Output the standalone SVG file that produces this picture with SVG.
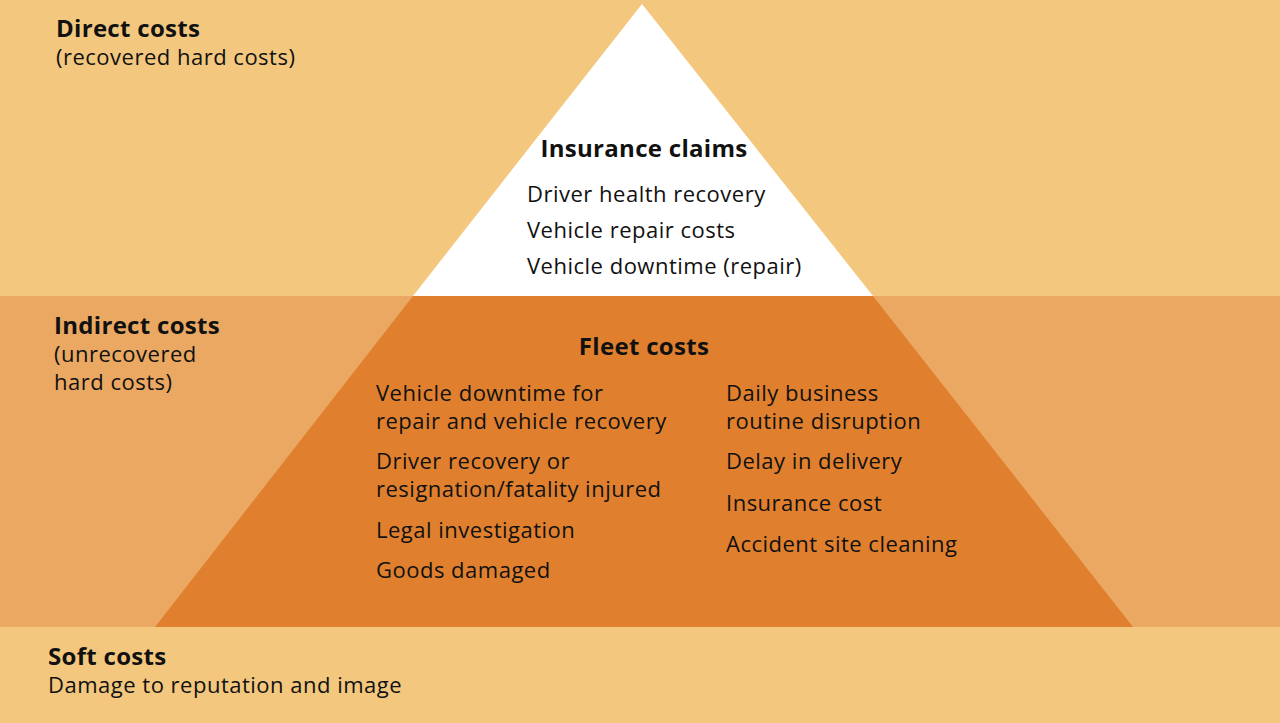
<svg xmlns="http://www.w3.org/2000/svg" width="1280" height="723" viewBox="0 0 1280 723">
<style>
text{font-family:"Open Sans","Noto Sans","Liberation Sans",sans-serif;fill:#111;font-size:22px;letter-spacing:0.5px}
.h{font-weight:bold;font-size:24px;letter-spacing:0.3px}
.c{text-anchor:middle}
</style>
<g id="bands">
<rect x="0" y="0" width="1280" height="296" fill="#F3C87E"/>
<rect x="0" y="296" width="1280" height="331" fill="#EAA862"/>
<rect x="0" y="627" width="1280" height="96" fill="#F3C87E"/>
</g>
<g id="pyramid-top">
<polygon points="642,4 873,296 413,296" fill="#FFFFFF"/>
<text class="h c" x="644" y="157">Insurance claims</text>
<text x="527" y="202">Driver health recovery</text>
<text x="527" y="238">Vehicle repair costs</text>
<text x="527" y="274">Vehicle downtime (repair)</text>
</g>
<g id="pyramid-base">
<polygon points="413,296 873,296 1133,627 155,627" fill="#E0802E"/>
<text class="h c" x="644" y="355">Fleet costs</text>
<text x="376" y="401">Vehicle downtime for</text>
<text x="376" y="429">repair and vehicle recovery</text>
<text x="376" y="469">Driver recovery or</text>
<text x="376" y="497">resignation/fatality injured</text>
<text x="376" y="538">Legal investigation</text>
<text x="376" y="578">Goods damaged</text>
<text x="726" y="401">Daily business</text>
<text x="726" y="429">routine disruption</text>
<text x="726" y="469">Delay in delivery</text>
<text x="726" y="511">Insurance cost</text>
<text x="726" y="552">Accident site cleaning</text>
</g>
<g id="direct-label">
<text class="h" x="56" y="37">Direct costs</text>
<text x="56" y="65">(recovered hard costs)</text>
</g>
<g id="indirect-label">
<text class="h" x="54" y="334">Indirect costs</text>
<text x="54" y="362">(unrecovered</text>
<text x="54" y="390">hard costs)</text>
</g>
<g id="soft-label">
<text class="h" x="48" y="665">Soft costs</text>
<text x="48" y="693">Damage to reputation and image</text>
</g>
<g id="connectors"></g>
</svg>
